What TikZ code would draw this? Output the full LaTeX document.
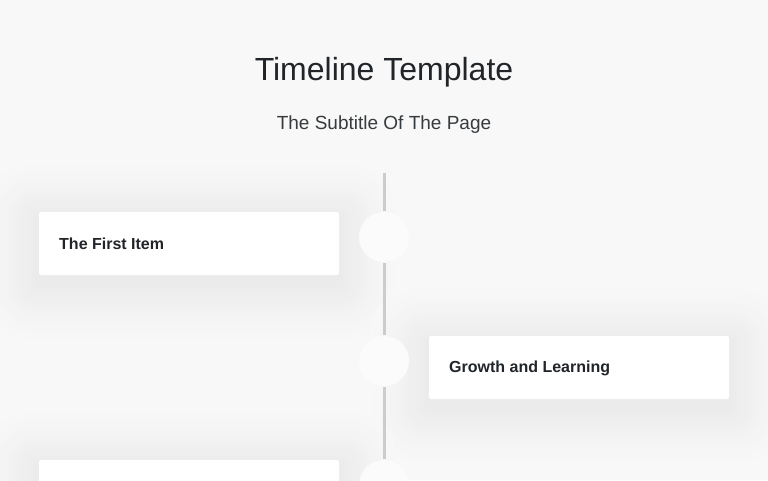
\documentclass[tikz,border=0pt]{standalone}
\usepackage{fontspec}
\setmainfont{Liberation Sans}
\definecolor{bg}{HTML}{F8F8F8}
\definecolor{shadowc}{HTML}{EBEBEB}
\definecolor{dotfill}{HTML}{FBFBFB}
\definecolor{ink}{HTML}{212529}
\definecolor{linegray}{HTML}{CCCCCC}
\tikzset{
  cardbox/.style={fill=white, rounded corners=2pt, minimum width=300pt, minimum height=63pt, inner sep=0pt, draw=none},
  cardtext/.style={font=\fontsize{16}{19}\selectfont\bfseries, text=ink, anchor=west, inner sep=0pt},
  dotbox/.style={circle, fill=dotfill, minimum size=50pt, inner sep=0pt, draw=none},
  vline/.style={draw=linegray, line width=3pt}
}
\newcommand{\softshadow}[4]{% x1 y1 x2 y2 (top-left, bottom-right)
  \foreach \i in {18,17,...,1}{
    \pgfmathsetmacro{\pct}{100*((19-\i)/18)^1.3}
    \pgfmathsetmacro{\rc}{2.5*\i+2}
    \fill[shadowc!\pct!bg, rounded corners=\rc pt]
      ({#1-3.2*\i}, {#2-3.2*\i+8}) rectangle ({#3+3.2*\i}, {#4+3.2*\i+8});
  }
}
\begin{document}
\begin{tikzpicture}[x=1pt,y=-1pt]
\useasboundingbox (0,0) rectangle (768,480);
\fill[bg] (0,0) rectangle (768,480);
\node[font=\fontsize{32}{38}\selectfont, text=ink] (title) at (384,72.5) {Timeline Template};
\node[font=\fontsize{19}{23}\selectfont, text=ink!90] (subtitle) at (384,124.5) {The Subtitle Of The Page};
% vertical line segments
\coordinate (l1a) at (384,173); \coordinate (l1b) at (384,211);
\coordinate (l2a) at (384,263); \coordinate (l2b) at (384,335);
\coordinate (l3a) at (384,387); \coordinate (l3b) at (384,459);
% shadows
\softshadow{39}{212}{339}{275}
\softshadow{429}{336}{729}{399}
\softshadow{39}{460}{339}{523}
\draw[vline] (l1a) -- (l1b);
\draw[vline] (l2a) -- (l2b);
\draw[vline] (l3a) -- (l3b);
% circles
\node[dotbox] (d1) at (384,237) {};
\node[dotbox] (d2) at (384,361) {};
\node[dotbox] (d3) at (384,485) {};
% cards
\node[cardbox] (c1) at (189,243.5) {};
\node[cardbox] (c2) at (579,367.5) {};
\node[cardbox] (c3) at (189,491.5) {};
\node[cardtext] (t1) at (59,244) {The First Item};
\node[cardtext] (t2) at (449,368.5) {Growth and Learning};
\end{tikzpicture}
\end{document}
